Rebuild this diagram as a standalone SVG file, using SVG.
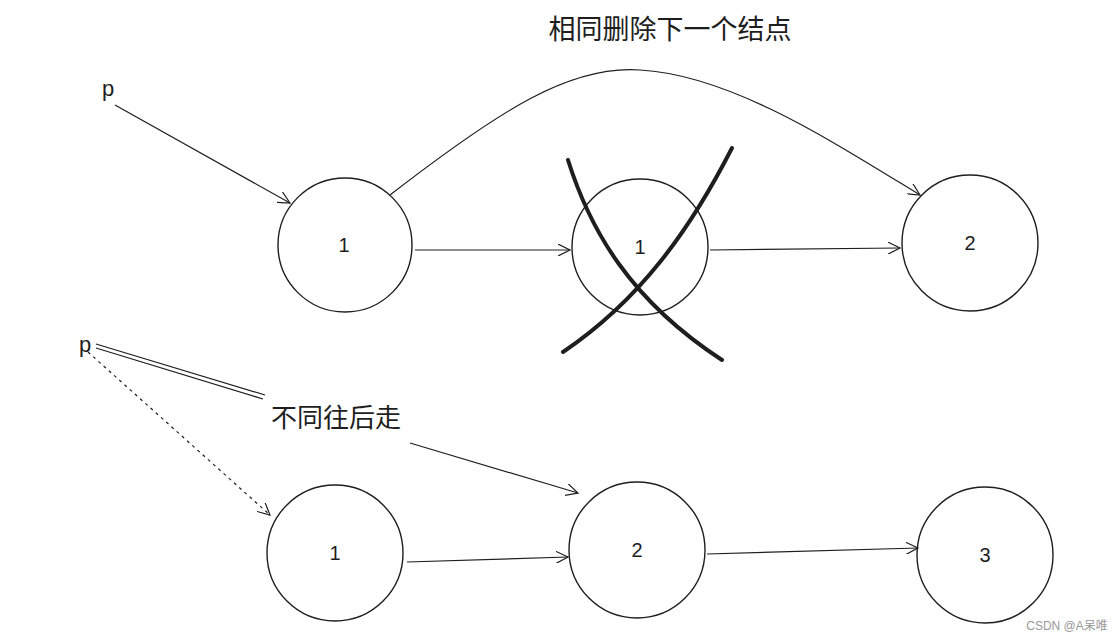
<svg xmlns="http://www.w3.org/2000/svg" width="1120" height="640" viewBox="0 0 1120 640">
<defs>
<marker id="a" markerWidth="14" markerHeight="12" refX="12" refY="6" orient="auto" markerUnits="userSpaceOnUse"><path d="M0,0 L12,6 L0,12" fill="none" stroke="#1e1e1e" stroke-width="1.2"/></marker>
</defs>
<style>
.n{fill:none;stroke:#1e1e1e;stroke-width:1.4}
.t{font-family:"Liberation Sans","Noto Sans CJK SC",sans-serif;fill:#1e1e1e}
.c{fill:none;stroke:#1e1e1e;stroke-width:1.2}
</style>
<rect width="1120" height="640" fill="#fff"/>
<g id="n1"><circle class="n" cx="345" cy="245" r="67"/><text class="t" x="344" y="252" font-size="20" text-anchor="middle">1</text></g>
<g id="n2"><circle class="n" cx="640" cy="247" r="68"/><text class="t" x="640" y="254" font-size="20" text-anchor="middle">1</text></g>
<g id="n3"><circle class="n" cx="970" cy="243" r="68"/><text class="t" x="970" y="250" font-size="20" text-anchor="middle">2</text></g>
<g id="n4"><circle class="n" cx="335" cy="553" r="68"/><text class="t" x="335" y="560" font-size="20" text-anchor="middle">1</text></g>
<g id="n5"><circle class="n" cx="637" cy="550" r="68"/><text class="t" x="637" y="557" font-size="20" text-anchor="middle">2</text></g>
<g id="n6"><circle class="n" cx="985" cy="555" r="68"/><text class="t" x="985" y="562" font-size="20" text-anchor="middle">3</text></g>
<g id="labels">
<text class="t" x="108" y="96" font-size="22" text-anchor="middle">p</text>
<text class="t" x="85" y="352" font-size="22" text-anchor="middle">p</text>
<text class="t" x="670" y="39" font-size="27" text-anchor="middle">相同删除下一个结点</text>
<text class="t" x="336" y="427" font-size="26" text-anchor="middle">不同往后走</text>
<text class="t" x="1067" y="630" font-size="12" style="fill:#999" text-anchor="middle">CSDN @A呆唯</text>
</g>
<g id="connectors">
<path class="c" d="M115,105 L290,203" marker-end="url(#a)"/>
<path class="c" d="M390,195 C500,110 570,65 640,70 C730,75 830,140 920,195" marker-end="url(#a)"/>
<path class="c" d="M415,250 L570,250" marker-end="url(#a)"/>
<path class="c" d="M710,250 L900,248" marker-end="url(#a)"/>
<path class="c" d="M96,344 L265,395 M96,348 L263,399"/>
<path class="c" d="M410,443 L578,493" marker-end="url(#a)"/>
<path class="c" d="M88,352 L270,515" stroke-dasharray="3,4" marker-end="url(#a)"/>
<path class="c" d="M407,562 L568,557" marker-end="url(#a)"/>
<path class="c" d="M707,554 L918,548" marker-end="url(#a)"/>
<path d="M568,160 C590,230 630,300 722,360" fill="none" stroke="#1e1e1e" stroke-width="4" stroke-linecap="round"/>
<path d="M732,148 C690,230 640,300 563,352" fill="none" stroke="#1e1e1e" stroke-width="4" stroke-linecap="round"/>
</g>
</svg>
